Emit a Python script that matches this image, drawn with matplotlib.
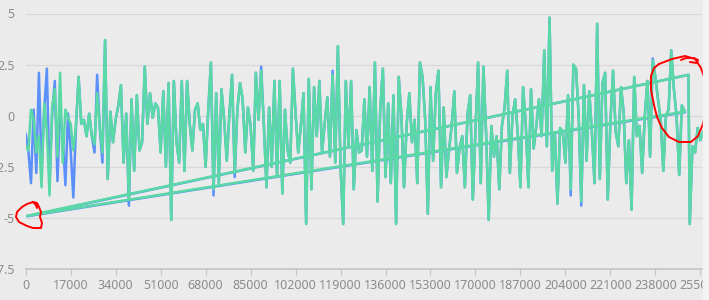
import matplotlib
matplotlib.use("Agg")
import matplotlib.pyplot as plt
from matplotlib.lines import Line2D
from matplotlib.patches import Rectangle
from matplotlib.ticker import FuncFormatter

plt.rcParams["font.family"] = ["Noto Sans", "DejaVu Sans"]
plt.rcParams["axes.unicode_minus"] = False

BG = "#ebebeb"
GRID = "#d9d9d9"
AXIS = "#c4c4c4"
LABEL = "#8c8c8c"
BLUE = "#5b8ff9"
GREEN = "#5ad8a6"

# samples every 1000 units
STEP = 1000
GREEN_HEAD = [
    -1.5, -1.7, 0.3, -0.2, -1.8, -1.0, -3.5, 0.6, -0.7, -3.9,
    0.4, 1.3, -2.0, 2.1, -2.3, 0.3, -0.1, -0.4, -1.7, -0.5,
    1.9, -0.4, -0.2, -1.0, 0.1, -1.0, -1.4, 1.1, -0.6, -1.8,
    3.7, -3.1, 0.2, -1.3, -0.2, 0.5, 1.5, -2.3, 0.1, -4.1,
    0.8, -2.7, 1.0, -1.7, -1.3, 2.4, -0.4, 1.1, -0.1, 0.6,
    0.4, -1.8, 1.2, -2.5, 1.6, -5.1, 1.7, -1.3, -2.3, 1.7,
    -2.7, 1.7, -0.4, -1.7, 0.3, 0.6, -0.7, -0.4, -2.5, 0.3,
    2.6, -3.6, 1.1, -3.3, 1.3, -0.2, -2.2, 0.1, 2.0, -2.8,
    0.3, 1.6, 0.8, -1.8, 0.4, -0.5, -2.7, 2.1, -0.2, 2.2,
    -0.4, -3.5, 0.4, -2.5, 1.7, -3.0, 1.7, -3.8, 0.3, -1.7,
    -2.3, 2.3, 0.1, -1.8, -0.5, 1.1, -5.3, 1.8, -3.6, 1.4,
    -1.0, 1.7, -1.8, -0.4, 0.9, -2.0, 2.0, -2.3, 3.4, -2.5,
    -5.3, 1.7, -1.5, 1.7, -3.6, -0.7, -1.8, -1.7, 0.8, -2.0,
    1.4, -2.7, 2.6, -4.2, 0.3, 2.3, -3.0, 0.6, -3.3, 1.0,
    -5.3, 1.9, 0.0, -3.5, -0.4, 1.1, -1.3, -0.2, -3.3, 2.6,
    1.9, -0.2, -4.8, 1.4, -2.2, 1.1, 2.2, -3.5, 0.4, -3.0,
    -1.7, -0.5, 1.2, -2.8, -1.6, -1.0, -3.5, 0.1, 1.0, -4.1,
    -0.8, 2.6, -3.3, 2.4, -0.8, -5.1, -0.5, -2.0, -1.0, -3.6,
    -0.5, 0.4, 2.2, -2.8, 0.0, 0.8, -0.9, -3.5, 1.4, -0.4,
    -3.5, 1.3, -1.6, -0.5, 0.8, -1.0, 3.2, -1.5, 4.8, -2.7,
    -0.8, -4.3, -0.6, -0.8, -2.3, 1.0, -3.6, 2.5, 2.3, 0.0,
    -4.2, 1.5, -2.2, 1.2, -0.8, -3.3, 4.5, -3.1, 1.6, 2.1,
    -4.1, -0.3, 2.2, -0.8, -1.5, 1.4, 0.2, -3.3, -1.2, -4.6,
    1.9, -1.0, -0.5, -2.8, 0.0, 1.7, -2.0, 2.7, 1.9, 0.8,
    -0.2, -2.7, 0.0, 0.3, 3.2, 1.3, 0.0, -2.9, 0.5,
]
# the end of the series jumps back to x=0 and out again
TAIL_X = [249200, 500, 250500, 251000, 252000, 253000, 254000, 255000, 256000]
GREEN_TAIL = [0.2, -4.9, 2.0, -5.3, -1.5, -1.8, -0.6, -1.2, -0.8]
BLUE_TAIL = [0.17, -4.92, 2.0, -5.3, -1.5, -1.8, -0.6, -1.2, -0.8]

# blue differs at the start, then mostly hides under green
BLUE_START = [-0.9, -1.7, -3.3, 0.3, -2.8, 2.1, -2.7, 0.3, 2.3, -3.3,
              0.1, 1.7, -3.2, 0.3, -1.0, -3.4, 0.1, -1.7, -4.0]
BLUE_TIPS = {26: -1.8, 27: 2.0, 29: -2.3, 39: -4.4, 71: -3.9, 79: -3.0,
             89: 2.4, 116: 2.2, 206: -3.9, 210: -4.4, 237: 2.8}

X_TICKS = list(range(0, 255001, 17000))
Y_TICKS = [-7.5, -5, -2.5, 0, 2.5, 5]

# hand-drawn red marks, in image pixels
MARK_LEFT = [(33, 202), (37, 203), (39, 207), (41, 212), (40, 217), (42, 223),
             (41, 228), (33, 228), (27, 226), (19, 222), (16, 217), (17, 212),
             (22, 207), (27, 204), (33, 202), (36, 205), (37, 208)]
MARK_RIGHT = [(659, 64), (672, 59), (685, 56), (695, 59), (701, 68), (705, 80),
              (707, 93), (706, 110), (703, 124), (698, 136), (691, 142),
              (679, 142), (669, 137), (662, 128), (657, 117), (654, 105),
              (651, 90), (651, 76), (654, 68), (659, 64)]
MARK_HOOK = [(681, 60), (686, 58), (694, 58), (698, 60), (697, 63), (690, 62)]

W, H = 709, 300


def main():
    head_x = [i * STEP for i in range(len(GREEN_HEAD))]
    gx = head_x + TAIL_X
    gy = GREEN_HEAD + GREEN_TAIL
    blue_head = BLUE_START + GREEN_HEAD[len(BLUE_START):]
    for k, v in BLUE_TIPS.items():
        blue_head[k] = v
    by = blue_head + BLUE_TAIL

    fig = plt.figure(figsize=(W / 100, H / 100), dpi=100, facecolor=BG)
    ax = fig.add_axes([25.7 / W, 1 - 269 / H, (703 - 25.7) / W, (269 - 13.5) / H])
    ax.set_facecolor(BG)

    ax.plot(gx, by, color=BLUE, lw=1.8, zorder=3)
    ax.plot(gx, gy, color=GREEN, lw=1.8, zorder=4)

    ax.set_xlim(0, 256000)
    ax.set_ylim(-7.5, 5)
    ax.set_xticks(X_TICKS)
    ax.set_yticks(Y_TICKS)
    ax.yaxis.set_major_formatter(FuncFormatter(lambda v, p: f"{v:g}"))
    ax.xaxis.set_major_formatter(FuncFormatter(lambda v, p: f"{int(v)}"))
    ax.tick_params(axis="x", length=4, color=AXIS, labelcolor=LABEL,
                   labelsize=9, pad=3)
    ax.tick_params(axis="y", length=0, labelcolor=LABEL, labelsize=9, pad=8)
    ax.grid(axis="y", color=GRID, lw=0.9)
    ax.set_axisbelow(True)
    for s in ("top", "right", "left"):
        ax.spines[s].set_visible(False)
    ax.spines["bottom"].set_color(AXIS)
    ax.spines["bottom"].set_linewidth(1.2)
    ax.spines["bottom"].set_zorder(5)

    for mark in (MARK_LEFT, MARK_RIGHT, MARK_HOOK):
        xs = [p[0] / W for p in mark]
        ys = [1 - p[1] / H for p in mark]
        fig.add_artist(Line2D(xs, ys, color="#ff0000", lw=1.4,
                              transform=fig.transFigure, zorder=10,
                              solid_capstyle="round", solid_joinstyle="round"))

    fig.add_artist(Rectangle((703 / W, 0), 6 / W, 1, color="#f3f3f3",
                             transform=fig.transFigure, zorder=11))

    fig.savefig("out.png", dpi=100, facecolor=BG)
    plt.close(fig)


if __name__ == "__main__":
    main()
